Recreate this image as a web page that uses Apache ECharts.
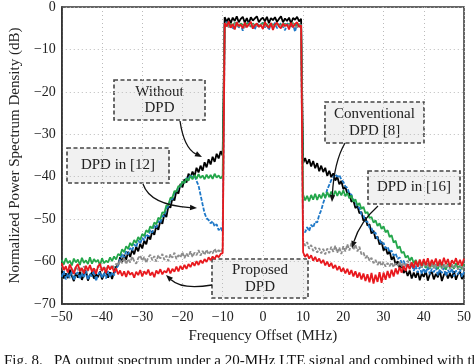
<!DOCTYPE html>
<html>
<head>
<meta charset="utf-8">
<script src="https://cdn.jsdelivr.net/npm/echarts@6/dist/echarts.min.js"></script>
<style>html,body{margin:0;padding:0;background:#fff}#c{width:474px;height:364px}</style>
</head>
<body>
<div id="c"></div>
<script>
// Frequency offset (MHz): -50 .. 50 step 0.5
const freq = [-50,-49.5,-49,-48.5,-48,-47.5,-47,-46.5,-46,-45.5,-45,-44.5,-44,-43.5,-43,-42.5,-42,-41.5,-41,-40.5,
 -40,-39.5,-39,-38.5,-38,-37.5,-37,-36.5,-36,-35.5,-35,-34.5,-34,-33.5,-33,-32.5,-32,-31.5,-31,-30.5,
 -30,-29.5,-29,-28.5,-28,-27.5,-27,-26.5,-26,-25.5,-25,-24.5,-24,-23.5,-23,-22.5,-22,-21.5,-21,-20.5,
 -20,-19.5,-19,-18.5,-18,-17.5,-17,-16.5,-16,-15.5,-15,-14.5,-14,-13.5,-13,-12.5,-12,-11.5,-11,-10.5,
 -10,
 -9.5,-9,-8.5,-8,-7.5,-7,-6.5,-6,-5.5,-5,-4.5,-4,-3.5,-3,-2.5,-2,-1.5,-1,-0.5,0,0.5,1,1.5,2,2.5,3,3.5,4,4.5,5,5.5,6,6.5,7,7.5,8,8.5,9,9.5,
 10,10.5,11,11.5,12,12.5,13,13.5,14,14.5,15,15.5,16,16.5,17,17.5,18,18.5,19,19.5,
 20,20.5,21,21.5,22,22.5,23,23.5,24,24.5,25,25.5,26,26.5,27,27.5,28,28.5,29,29.5,
 30,30.5,31,31.5,32,32.5,33,33.5,34,34.5,35,35.5,36,36.5,37,37.5,38,38.5,39,39.5,
 40,40.5,41,41.5,42,42.5,43,43.5,44,44.5,45,45.5,46,46.5,47,47.5,48,48.5,49,49.5,50];

const withoutDPD = [
 -62.2,-64.0,-62.8,-63.9,-61.9,-63.4,-64.6,-62.7,-63.8,-62.4,-64.3,-63.1,-62.0,-64.5,-63.2,-62.6,-64.0,-62.9,-63.7,-62.3,
 -64.2,-63.0,-62.1,-63.8,-62.5,-64.1,-62.4,-61.2,-60.8,-59.0,-60.1,-58.4,-59.6,-57.7,-58.9,-57.2,-58.3,-56.5,-57.6,-55.8,
 -56.9,-55.1,-55.9,-53.9,-54.8,-52.8,-53.7,-51.6,-52.5,-50.4,-51.1,-48.8,-49.5,-46.9,-47.3,-45.1,-45.6,-43.3,-44.0,-41.7,
 -42.5,-40.6,-41.4,-39.3,-40.2,-38.8,-39.9,-37.9,-39.0,-37.4,-38.6,-36.6,-37.8,-35.9,-37.1,-35.3,-36.5,-34.6,-35.7,-34.0,
 -35.0,
 -2.4,-3.5,-2.6,-3.8,-2.5,-3.3,-2.2,-3.6,-2.8,-2.3,-3.7,-2.6,-3.9,-2.4,-3.2,-2.7,-2.2,-3.6,-2.9,-2.5,-3.4,-2.3,-3.8,-2.6,-3.1,-2.4,-3.5,-2.8,-2.2,-3.6,-2.7,-3.3,-2.5,-3.9,-2.6,-3.0,-2.3,-3.4,-2.8,
 -36.8,-35.6,-37.0,-35.9,-37.6,-36.3,-38.0,-36.8,-38.7,-37.4,-38.9,-37.9,-39.8,-38.6,-40.1,-39.2,-40.9,-40.0,-41.8,-41.0,
 -42.9,-42.4,-44.0,-43.8,-45.9,-45.6,-47.4,-46.9,-48.6,-48.3,-50.4,-49.6,-51.5,-51.2,-53.4,-52.7,-54.6,-54.1,-56.0,-55.3,
 -57.4,-56.6,-58.3,-57.5,-59.6,-58.8,-60.7,-59.9,-61.6,-60.8,-62.7,-61.9,-63.4,-62.1,-64.0,-62.6,-63.8,-62.3,-64.4,-62.8,
 -63.6,-62.2,-64.5,-63.0,-62.4,-64.2,-62.9,-63.7,-62.1,-64.6,-63.1,-62.5,-64.0,-62.8,-63.9,-62.3,-64.3,-63.0,-62.4,-64.1,-63.2];

const dpd12 = [
 -63.6,-62.3,-64.2,-62.8,-63.9,-62.1,-64.4,-63.0,-62.5,-64.1,-62.7,-63.8,-62.2,-64.3,-62.9,-63.5,-62.0,-64.6,-63.1,-62.4,
 -63.9,-62.6,-64.0,-62.2,-63.7,-62.5,-63.3,-61.6,-61.0,-59.4,-58.2,-59.0,-57.6,-58.3,-56.8,-57.4,-55.9,-56.6,-55.0,-55.8,
 -54.4,-55.0,-53.5,-54.1,-52.6,-53.2,-51.5,-52.0,-50.4,-50.9,-49.2,-49.3,-47.5,-47.0,-45.4,-45.3,-43.8,-43.6,-42.5,-42.3,
 -41.2,-41.4,-40.3,-40.6,-39.5,-40.2,-39.8,-41.0,-42.1,-44.3,-46.5,-48.6,-49.8,-50.2,-51.0,-50.5,-51.7,-51.2,-52.6,-52.0,
 -53.0,
 -4.0,-3.5,-4.6,-3.8,-5.2,-4.2,-3.6,-4.9,-4.0,-5.6,-3.8,-4.4,-3.6,-4.7,-4.0,-5.3,-3.9,-4.3,-4.1,-3.7,-4.8,-4.2,-5.4,-3.9,-4.5,-3.7,-5.0,-4.3,-3.8,-4.6,-5.5,-4.0,-3.7,-4.9,-4.2,-5.8,-3.9,-4.4,-4.1,
 -52.4,-53.1,-51.9,-52.8,-51.3,-52.0,-50.6,-50.8,-49.0,-47.9,-46.2,-44.8,-43.0,-41.9,-40.8,-40.2,-39.4,-40.0,-39.6,-40.7,
 -41.2,-42.3,-42.6,-44.0,-44.2,-45.6,-45.8,-47.2,-47.3,-48.9,-49.1,-50.5,-50.6,-52.0,-52.1,-53.3,-53.2,-54.6,-54.7,-55.9,
 -55.6,-56.9,-56.5,-57.8,-57.4,-58.6,-58.1,-59.4,-59.0,-60.3,-59.8,-61.1,-60.4,-61.7,-60.6,-62.2,-61.0,-62.6,-61.3,-62.9,
 -61.6,-62.8,-61.2,-63.0,-61.7,-62.5,-61.4,-63.2,-61.9,-62.7,-61.5,-63.4,-62.0,-62.8,-61.6,-63.5,-62.1,-63.0,-61.8,-63.6,-62.4];

const conventionalDPD8 = [
 -59.6,-60.7,-59.2,-60.4,-59.8,-60.9,-59.3,-60.2,-59.5,-60.8,-59.1,-60.3,-59.7,-60.6,-59.0,-60.5,-59.4,-60.1,-59.6,-60.9,
 -59.2,-60.4,-59.8,-60.2,-59.0,-59.9,-58.8,-59.5,-58.2,-58.6,-57.1,-57.8,-56.4,-57.0,-55.6,-56.3,-54.9,-55.6,-54.2,-54.9,
 -53.5,-54.0,-52.6,-53.1,-51.7,-52.2,-50.8,-51.2,-49.7,-50.0,-48.4,-48.5,-46.8,-46.6,-45.0,-44.9,-43.4,-43.5,-42.2,-42.3,
 -41.1,-41.5,-40.4,-40.9,-39.8,-40.6,-39.6,-40.5,-39.4,-40.3,-39.7,-40.6,-39.5,-40.4,-39.6,-40.5,-39.3,-40.2,-39.7,-40.4,
 -39.8,
 -4.2,-3.8,-4.6,-4.0,-4.4,-3.7,-4.3,-4.5,-3.9,-4.2,-4.6,-3.8,-4.1,-4.5,-3.9,-4.3,-4.0,-4.6,-4.1,-3.8,-4.4,-4.0,-4.7,-3.9,-4.2,-4.5,-3.8,-4.3,-4.1,-4.6,-3.9,-4.4,-4.0,-4.5,-3.8,-4.2,-4.6,-4.0,-4.3,
 -44.2,-45.6,-44.5,-45.8,-44.3,-45.4,-44.0,-45.5,-44.2,-45.1,-43.8,-45.0,-43.6,-44.8,-43.5,-44.6,-43.3,-44.5,-43.4,-44.4,
 -43.2,-44.6,-43.8,-45.1,-44.4,-45.9,-45.3,-46.8,-46.2,-47.6,-47.1,-48.6,-48.3,-49.7,-49.5,-50.8,-50.3,-51.6,-51.0,-52.3,
 -51.7,-53.1,-52.6,-54.2,-53.8,-55.5,-55.1,-56.9,-56.4,-58.0,-57.7,-59.1,-58.6,-59.8,-59.0,-60.4,-59.6,-60.9,-60.0,-61.3,
 -60.2,-61.5,-60.4,-61.7,-60.5,-61.4,-60.6,-61.8,-60.3,-61.6,-60.7,-61.9,-60.5,-61.5,-60.8,-61.7,-60.4,-61.6,-60.9,-61.8,-60.6];

const dpd16 = [
 -61.0,-62.1,-61.4,-62.3,-60.9,-61.8,-62.4,-61.2,-62.0,-61.5,-62.6,-61.1,-61.9,-62.2,-61.3,-62.0,-61.6,-62.5,-61.0,-61.8,
 -62.1,-61.3,-61.9,-61.1,-61.7,-60.8,-61.4,-60.5,-61.0,-59.6,-60.4,-59.1,-60.6,-59.4,-60.2,-58.8,-59.9,-60.5,-59.2,-58.6,
 -59.8,-58.9,-60.3,-59.0,-58.4,-59.7,-58.7,-60.0,-58.5,-59.3,-58.2,-59.6,-58.6,-59.9,-58.3,-59.1,-57.9,-59.4,-58.5,-59.0,
 -57.8,-59.2,-58.1,-58.8,-57.6,-58.9,-57.9,-58.5,-57.3,-58.6,-57.5,-58.4,-57.2,-58.3,-57.6,-58.1,-57.0,-57.9,-57.3,-57.8,
 -56.9,
 -4.5,-4.0,-4.8,-4.2,-4.6,-3.9,-4.4,-4.7,-4.1,-4.5,-4.8,-4.2,-4.3,-4.6,-4.1,-4.5,-4.2,-4.7,-4.3,-4.0,-4.6,-4.2,-4.8,-4.1,-4.4,-4.6,-4.0,-4.5,-4.3,-4.7,-4.1,-4.4,-4.2,-4.6,-4.0,-4.5,-4.8,-4.2,-4.4,
 -55.0,-56.3,-55.4,-57.0,-56.1,-57.5,-56.6,-57.9,-56.8,-58.1,-57.0,-58.3,-56.9,-58.0,-56.5,-57.7,-56.3,-57.9,-56.7,-58.2,
 -56.4,-57.6,-55.9,-57.4,-55.6,-57.2,-56.0,-57.6,-56.5,-58.3,-57.9,-59.2,-58.6,-59.8,-59.1,-60.4,-59.6,-60.8,-59.9,-61.0,
 -60.1,-61.2,-60.3,-61.1,-60.2,-61.3,-60.4,-61.0,-60.0,-61.2,-60.3,-60.9,-59.8,-60.8,-60.1,-61.0,-60.3,-61.2,-60.5,-61.4,
 -60.6,-61.3,-60.4,-61.5,-60.7,-61.6,-60.5,-61.4,-60.8,-61.7,-60.6,-61.5,-60.9,-61.8,-60.7,-61.6,-61.0,-61.9,-60.8,-61.7,-61.1];

const proposedDPD = [
 -60.4,-62.0,-61.1,-62.6,-60.7,-61.8,-62.9,-61.3,-60.6,-62.3,-61.5,-62.8,-61.0,-62.1,-60.8,-62.4,-61.6,-62.9,-61.2,-60.5,
 -62.2,-61.4,-62.7,-60.9,-61.9,-61.1,-62.5,-61.6,-63.0,-62.1,-63.4,-62.3,-63.6,-62.2,-63.1,-62.6,-63.8,-62.4,-63.2,-62.0,
 -63.5,-62.3,-63.0,-61.9,-63.3,-62.5,-63.7,-62.1,-62.9,-61.8,-63.0,-62.2,-62.6,-61.5,-62.8,-61.7,-62.4,-61.2,-62.3,-61.0,
 -61.9,-60.8,-61.7,-60.6,-61.3,-60.2,-61.0,-59.9,-60.8,-59.7,-60.4,-59.4,-60.1,-59.0,-59.7,-58.8,-59.4,-58.5,-59.0,-58.2,
 -58.0,
 -3.8,-4.6,-3.4,-4.9,-4.0,-5.3,-3.6,-4.5,-4.2,-5.0,-3.7,-4.8,-4.1,-3.5,-5.1,-4.3,-3.9,-4.7,-4.2,-5.2,-3.6,-4.4,-4.9,-3.8,-5.4,-4.1,-3.7,-4.6,-5.0,-3.9,-4.5,-4.1,-5.3,-3.7,-4.8,-4.0,-3.6,-4.7,-4.3,
 -57.8,-58.9,-58.2,-59.3,-58.5,-59.8,-58.9,-60.0,-59.3,-60.4,-59.6,-60.9,-60.0,-61.2,-60.3,-61.6,-60.8,-62.0,-61.1,-62.4,
 -61.5,-62.8,-61.7,-63.1,-62.0,-63.5,-62.3,-63.8,-62.6,-64.2,-62.8,-64.6,-63.0,-64.9,-62.7,-65.2,-63.1,-64.8,-62.5,-65.0,
 -62.6,-64.3,-62.2,-63.9,-61.9,-63.5,-61.6,-63.0,-61.3,-62.6,-61.0,-62.2,-60.6,-61.8,-60.2,-61.5,-59.8,-61.2,-59.5,-61.0,
 -59.4,-60.8,-59.2,-61.1,-59.6,-60.7,-59.3,-61.0,-59.5,-60.9,-59.1,-60.6,-59.4,-61.2,-59.7,-60.5,-59.2,-60.8,-59.6,-61.0,-59.3];

const labels = {
  without: ['Without', 'DPD'],
  dpd12: ['DPD in [12]'],
  conv: ['Conventional', 'DPD [8]'],
  dpd16: ['DPD in [16]'],
  proposed: ['Proposed', 'DPD']
};
const xTitle = 'Frequency Offset (MHz)';
const yTitle = 'Normalized Power Spectrum Density (dB)';
const caption = 'Fig. 8.   PA output spectrum under a 20-MHz LTE signal and combined with the';

[withoutDPD, dpd12, conventionalDPD8, dpd16, proposedDPD].forEach((a, i) => {
  if (a.length !== freq.length) throw new Error('series ' + i + ' length ' + a.length + ' vs ' + freq.length);
});

const FONT = '"Liberation Serif", "DejaVu Serif", serif';
const pair = arr => freq.map((f, i) => [f, arr[i]]);
const minus = v => String(v).replace('-', '\u2212');

function mkSeries(name, arr, color, dashed, z) {
  return {
    name, type: 'line', data: pair(arr), showSymbol: false, symbol: 'none',
    z, animation: false,
    lineStyle: { color, width: 1.8, type: dashed ? [4, 1.5] : 'solid' }
  };
}

const chart = echarts.init(document.getElementById('c'), null, { renderer: 'canvas' });

function box(x, y, w, h, lines) {
  const children = [{
    type: 'rect', shape: { x: 0, y: 0, width: w, height: h },
    style: { fill: '#f1f1f1', stroke: '#454545', lineWidth: 1.6, lineDash: [4, 2.5] }
  }];
  const lh = 16.5;
  const start = h / 2 - (lines.length - 1) * lh / 2;
  lines.forEach((t, i) => children.push({
    type: 'text', x: w / 2, y: start + i * lh,
    style: { text: t, font: '15px ' + FONT, fill: '#222', align: 'center', verticalAlign: 'middle' }
  }));
  return { type: 'group', x, y, z: 100, children };
}

function arrow(x1, y1, cx, cy, x2, y2) {
  const dx = x2 - cx, dy = y2 - cy, L = Math.hypot(dx, dy);
  const ux = dx / L, uy = dy / L, hl = 7, hw = 2.8;
  const bx = x2 - ux * hl, by = y2 - uy * hl;
  return [
    { type: 'bezierCurve', z: 100, shape: { x1, y1, x2: bx, y2: by, cpx1: cx, cpy1: cy },
      style: { stroke: '#111', lineWidth: 1.3, fill: null } },
    { type: 'polygon', z: 100, shape: { points: [[x2, y2], [bx - uy * hw, by + ux * hw], [bx + uy * hw, by - ux * hw]] },
      style: { fill: '#111' } }
  ];
}

const graphics = [
  box(114, 80, 91, 40, labels.without),
  box(67, 148, 102, 35, labels.dpd12),
  box(325, 102, 99, 41, labels.conv),
  box(368, 171, 92, 33, labels.dpd16),
  box(212, 259, 96, 39, labels.proposed),
  ...arrow(180, 121, 184, 148, 202, 157),
  ...arrow(143, 184, 150, 205, 197, 208),
  ...arrow(345, 143, 334, 162, 332, 202),
  ...arrow(378, 206, 360, 222, 352, 248),
  ...arrow(212, 285, 182, 290, 166, 275),
  { type: 'text', x: 4, y: 354, z: 100,
    style: { text: caption, font: '15px ' + FONT, fill: '#111' } }
];

chart.setOption({
  animation: false,
  backgroundColor: '#fff',
  grid: { left: 52, right: 7, top: 6, bottom: 60, show: true, borderColor: '#333', borderWidth: 1.5, backgroundColor: 'transparent' },
  xAxis: {
    type: 'value', min: -50, max: 50, interval: 10,
    name: xTitle, nameLocation: 'middle', nameGap: 23,
    nameTextStyle: { fontFamily: FONT, fontSize: 15, color: '#222' },
    axisLine: { show: true, onZero: false, lineStyle: { color: '#333', width: 1.5 } },
    axisTick: { show: false },
    axisLabel: { fontFamily: FONT, fontSize: 14, color: '#222', margin: 6, formatter: v => minus(v) },
    splitLine: { show: true, lineStyle: { color: '#bbb', type: [1, 3], width: 1 } }
  },
  yAxis: {
    type: 'value', min: -70, max: 0, interval: 10,
    name: yTitle, nameLocation: 'middle', nameGap: 32,
    nameTextStyle: { fontFamily: FONT, fontSize: 15, color: '#222' },
    axisLine: { show: true, onZero: false, lineStyle: { color: '#333', width: 1.5 } },
    axisTick: { show: false },
    axisLabel: { fontFamily: FONT, fontSize: 14, color: '#222', margin: 6, formatter: v => minus(v) },
    splitLine: { show: true, lineStyle: { color: '#bbb', type: [1, 3], width: 1 } }
  },
  series: [
    mkSeries('Without DPD', withoutDPD, '#000000', false, 2),
    mkSeries('DPD in [12]', dpd12, '#1e78c8', true, 3),
    mkSeries('Conventional DPD [8]', conventionalDPD8, '#23a64a', false, 4),
    mkSeries('DPD in [16]', dpd16, '#8c8c8c', true, 5),
    mkSeries('Proposed DPD', proposedDPD, '#e8191e', false, 6)
  ],
  graphic: graphics
});
</script>
</body>
</html>
